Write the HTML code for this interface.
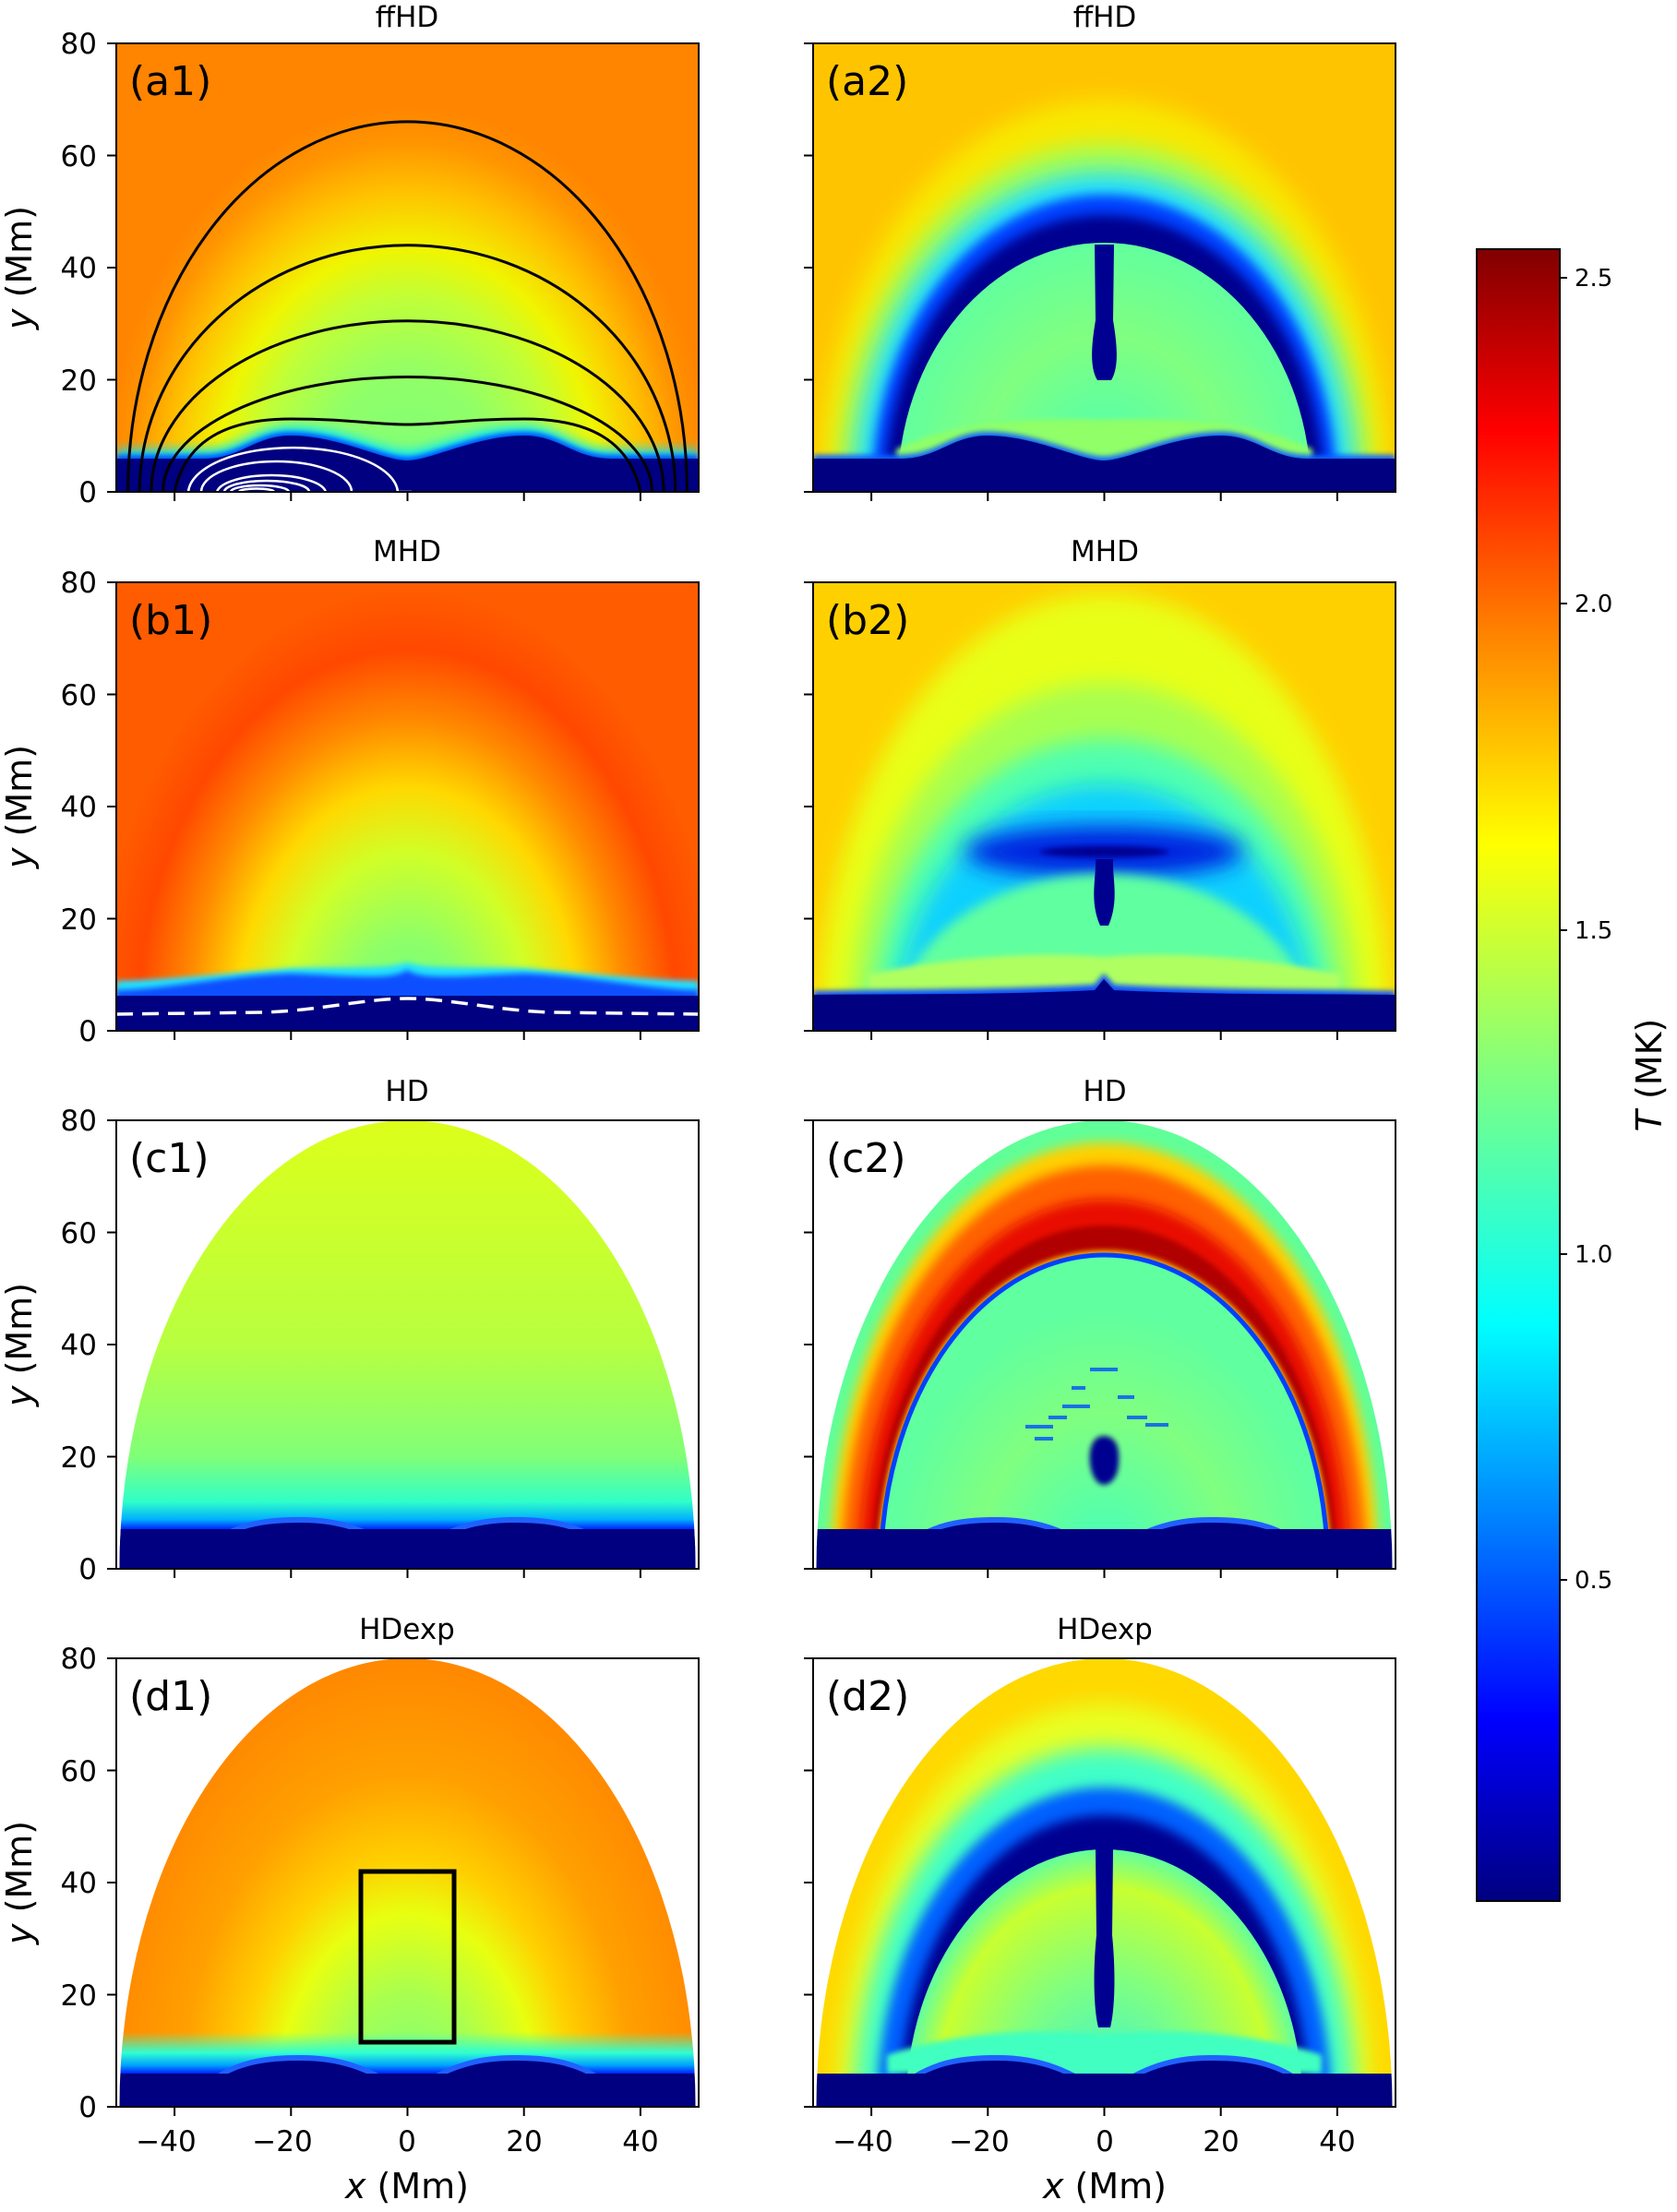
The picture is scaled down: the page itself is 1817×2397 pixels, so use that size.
<!DOCTYPE html>
<html><head><meta charset="utf-8"><style>html,body{margin:0;padding:0;background:#fff;overflow:hidden;width:1817px;height:2397px}svg{display:block}</style></head>
<body>
<svg width="1817" height="2397" viewBox="0 0 1817 2397" xmlns="http://www.w3.org/2000/svg" font-family="DejaVu Sans, Liberation Sans, sans-serif">
<defs>
<filter id="f12" x="-30%" y="-30%" width="160%" height="160%"><feGaussianBlur stdDeviation="12"/></filter>
<filter id="f6" x="-30%" y="-30%" width="160%" height="160%"><feGaussianBlur stdDeviation="6"/></filter>
<filter id="f3" x="-30%" y="-30%" width="160%" height="160%"><feGaussianBlur stdDeviation="3"/></filter>
<clipPath id="cp"><rect x="0" y="0" width="631" height="486"/></clipPath>
<clipPath id="arch"><path d="M3.5,486 A312 486 0 0 1 627.5,486 Z"/></clipPath>
<radialGradient id="ga1" gradientUnits="userSpaceOnUse" cx="0" cy="0" r="1" gradientTransform="translate(315.5 486) scale(330 420)">
<stop offset="0" stop-color="#7dff7a"/><stop offset="0.3" stop-color="#90ff68"/><stop offset="0.5" stop-color="#c0ff38"/><stop offset="0.63" stop-color="#f0f500"/><stop offset="0.78" stop-color="#ffc000"/><stop offset="0.9" stop-color="#ff9500"/><stop offset="1" stop-color="#ff8400"/></radialGradient>
<radialGradient id="gb1" gradientUnits="userSpaceOnUse" cx="0" cy="0" r="1" gradientTransform="translate(315.5 486) scale(340 480)">
<stop offset="0" stop-color="#70ff80"/><stop offset="0.2" stop-color="#8cff6a"/><stop offset="0.4" stop-color="#d0ff28"/><stop offset="0.55" stop-color="#ffd800"/><stop offset="0.7" stop-color="#ff8a00"/><stop offset="0.86" stop-color="#ff4800"/><stop offset="1" stop-color="#ff5c00"/></radialGradient>
<radialGradient id="gd1" gradientUnits="userSpaceOnUse" cx="0" cy="0" r="1" gradientTransform="translate(315.5 486) scale(330 486)">
<stop offset="0" stop-color="#70ff8a"/><stop offset="0.25" stop-color="#a8ff50"/><stop offset="0.43" stop-color="#e8ff10"/><stop offset="0.55" stop-color="#ffd000"/><stop offset="0.74" stop-color="#ffa000"/><stop offset="1" stop-color="#ff8800"/></radialGradient>
<linearGradient id="gc1" gradientUnits="userSpaceOnUse" x1="0" y1="0" x2="0" y2="486">
<stop offset="0" stop-color="#dcff1a"/><stop offset="0.5" stop-color="#b8ff40"/><stop offset="0.75" stop-color="#80ff78"/><stop offset="0.85" stop-color="#30ffc8"/><stop offset="0.89" stop-color="#00b0ff"/><stop offset="0.91" stop-color="#0030ff"/><stop offset="0.92" stop-color="#000080"/><stop offset="1" stop-color="#000080"/></linearGradient>
<linearGradient id="gband" x1="0" y1="0" x2="0" y2="1">
<stop offset="0" stop-color="#30ffd0" stop-opacity="0"/><stop offset="0.5" stop-color="#30ffd0"/><stop offset="0.8" stop-color="#00a0ff"/><stop offset="1" stop-color="#0020ff"/></linearGradient>
<radialGradient id="gdome" gradientUnits="userSpaceOnUse" cx="0" cy="0" r="1" gradientTransform="translate(315.5 486) scale(230 280)">
<stop offset="0" stop-color="#40ffc0"/><stop offset="0.6" stop-color="#80ff80"/><stop offset="1" stop-color="#60ffa0"/></radialGradient>
<radialGradient id="gdome2" gradientUnits="userSpaceOnUse" cx="0" cy="0" r="1" gradientTransform="translate(315.5 486) scale(215 280)">
<stop offset="0" stop-color="#30f0e0"/><stop offset="0.5" stop-color="#80ff80"/><stop offset="0.85" stop-color="#c8ff30"/><stop offset="1" stop-color="#60ffa0"/></radialGradient>
<linearGradient id="gcb" x1="0" y1="0" x2="0" y2="1">
<stop offset="0" stop-color="#800000"/><stop offset="0.11" stop-color="#ff0000"/><stop offset="0.23" stop-color="#ff8000"/><stop offset="0.36" stop-color="#ffff00"/><stop offset="0.5" stop-color="#80ff80"/><stop offset="0.65" stop-color="#00ffff"/><stop offset="0.77" stop-color="#0080ff"/><stop offset="0.89" stop-color="#0000ff"/><stop offset="1" stop-color="#000080"/></linearGradient>
<path id="base" d="M0,450 L95,450 C135,450 150,425 189,425 C240,425 290,452 315,452 C340,452 390,425 442,425 C481,425 496,450 536,450 L631,450 L631,486 L0,486Z"/>
<path id="baseC" d="M0,443 L631,443 L631,486 L0,486Z"/>
<path id="hills" d="M110,450 C140,432 170,430 200,430 C240,430 270,440 305,462 L326,462 C360,440 390,430 430,430 C460,430 490,432 520,450Z"/>
<g id="ticksL">
<path d="M0,0 h-10 M0,121.5 h-10 M0,243 h-10 M0,364.5 h-10 M0,486 h-10 M63.1,486 v10 M189.3,486 v10 M315.5,486 v10 M441.7,486 v10 M567.9,486 v10" stroke="#000" stroke-width="2" fill="none"/>
<rect x="0" y="0" width="631" height="486" fill="none" stroke="#000" stroke-width="2"/>
</g>
</defs>

<g transform="translate(126,47)">
<g clip-path="url(#cp)">
<rect width="631" height="486" fill="url(#ga1)"/>
<use href="#base" transform="translate(0,-10)" fill="#00e8ff" filter="url(#f6)"/>
<use href="#base" transform="translate(0,-4)" fill="#0050ff" filter="url(#f3)"/>
<use href="#base" fill="#000080"/>
<g fill="none" stroke="#000" stroke-width="3">
<path d="M12.6,486 A302.8 401 0 0 1 618.4,486"/>
<path d="M25.2,486 A290.3 267.3 0 0 1 605.8,486"/>
<path d="M37.9,486 A277.6 185.3 0 0 1 593.1,486"/>
<path d="M50.5,486 A265 124.5 0 0 1 580.5,486"/>
<path d="M63.1,486 C75,430 120,407 189,407 C250,407 280,413 315.5,413 C351,413 381,407 442,407 C511,407 556,430 567.9,486"/>
</g>
<g fill="none" stroke="#fff" stroke-width="2.5">
<path d="M78,486 A113.6 50 0 0 1 305,486 L320,486"/>
<path d="M92,486 A81.4 33 0 0 1 255,486"/>
<path d="M109,486 A59.3 20 0 0 1 227,486"/>
<path d="M117,486 A46 12 0 0 1 209,486"/>
<path d="M124,486 A31.5 7 0 0 1 187,486"/>
<path d="M133,486 A19 3.5 0 0 1 171,486"/>
</g>
</g>
<use href="#ticksL"/>
</g>

<g transform="translate(881,47)">
<g clip-path="url(#cp)">
<rect width="631" height="486" fill="#ffc400"/>
<ellipse cx="315.5" cy="486" rx="312" ry="425" fill="#f8e800" filter="url(#f12)"/>
<ellipse cx="315.5" cy="486" rx="290" ry="377" fill="#a0ff58" filter="url(#f12)"/>
<ellipse cx="315.5" cy="486" rx="271" ry="346" fill="#20e0ff" filter="url(#f12)"/>
<ellipse cx="315.5" cy="486" rx="252" ry="322" fill="#0040ff" filter="url(#f6)"/>
<ellipse cx="315.5" cy="486" rx="238" ry="300" fill="#000090" filter="url(#f6)"/>
<ellipse cx="315.5" cy="486" rx="224" ry="270" fill="url(#gdome)"/>
<path d="M305,218 L326,218 L325,300 C330,330 331,352 323,365 L308,365 C300,352 301,330 306,300Z" fill="#000090"/>
<path d="M90,440 C150,410 250,405 315,408 C380,405 480,410 541,440 L541,452 L90,452Z" fill="#90ff68" filter="url(#f3)"/>
<use href="#base" transform="translate(0,-4)" fill="#1060ff" filter="url(#f3)"/>
<use href="#base" fill="#000080"/>
</g>
<use href="#ticksL"/>
</g>

<g transform="translate(126,631)">
<g clip-path="url(#cp)">
<rect width="631" height="486" fill="#ff6000"/>
<rect width="631" height="486" fill="url(#gb1)"/>
<path d="M0,432 C60,430 120,424 189,418 C250,416 290,420 315,412 C340,420 380,416 442,418 C510,424 570,430 631,432 L631,486 L0,486Z" fill="#20e0ff" filter="url(#f3)"/>
<path d="M0,442 C60,440 120,426 189,424 C250,426 300,432 315,420 C330,432 380,426 442,424 C510,426 570,440 631,442 L631,486 L0,486Z" fill="#1050ff" filter="url(#f3)"/>
<path d="M0,448 L631,448 L631,486 L0,486Z" fill="#000080"/>
<path d="M0,468 L160,466 C220,464 270,451 315.5,451 C361,451 411,464 471,466 L631,468" fill="none" stroke="#fff" stroke-width="3.5" stroke-dasharray="18 10"/>
</g>
<use href="#ticksL"/>
</g>

<g transform="translate(881,631)">
<g clip-path="url(#cp)">
<rect width="631" height="486" fill="#ffd000"/>
<ellipse cx="315.5" cy="486" rx="309" ry="474" fill="#e8ff18" filter="url(#f12)"/>
<ellipse cx="315.5" cy="486" rx="278" ry="377" fill="#a8ff50" filter="url(#f12)"/>
<ellipse cx="315.5" cy="486" rx="252" ry="316" fill="#50ffb0" filter="url(#f12)"/>
<ellipse cx="315.5" cy="486" rx="227" ry="267" fill="#10d0ff" filter="url(#f12)"/>
<ellipse cx="315.5" cy="292" rx="150" ry="28" fill="#0020e0" filter="url(#f12)"/>
<ellipse cx="315.5" cy="292" rx="70" ry="6" fill="#000090" filter="url(#f3)"/>
<ellipse cx="315.5" cy="486" rx="227" ry="170" fill="#60ffa0" filter="url(#f6)"/>
<path d="M306,300 L325,300 C324,320 332,345 320,372 L311,372 C299,345 307,320 306,300Z" fill="#000090"/>
<path d="M60,425 C150,405 250,400 315,406 C380,400 480,405 571,425 L571,445 L60,445Z" fill="#b0ff60" filter="url(#f3)"/>
<path d="M0,443 C100,441 200,442 305,436 L315,424 L326,436 C430,442 530,441 631,443 L631,486 L0,486Z" fill="#1050ff" filter="url(#f3)"/>
<path d="M0,447 C100,446 200,447 305,442 L315,430 L326,442 C430,447 530,446 631,447 L631,486 L0,486Z" fill="#000080"/>
</g>
<use href="#ticksL"/>
</g>

<g transform="translate(126,1214)">
<g clip-path="url(#arch)">
<rect width="631" height="486" fill="url(#gc1)"/>
<use href="#hills" fill="#2060ff"/>
<use href="#hills" transform="translate(0,6)" fill="#000080"/>
<use href="#baseC" fill="#000080"/>
</g>
<use href="#ticksL"/>
</g>

<g transform="translate(881,1214)">
<g clip-path="url(#arch)">
<rect width="631" height="486" fill="#60ff98"/>
<ellipse cx="315.5" cy="486" rx="297" ry="462" fill="#ffd000" filter="url(#f6)"/>
<ellipse cx="315.5" cy="486" rx="284" ry="437" fill="#ff6000" filter="url(#f6)"/>
<ellipse cx="315.5" cy="486" rx="265" ry="400" fill="#e81000" filter="url(#f6)"/>
<ellipse cx="315.5" cy="486" rx="252" ry="372" fill="#b00000" filter="url(#f3)"/>
<ellipse cx="315.5" cy="486" rx="246" ry="345" fill="#ffc000" filter="url(#f3)"/>
<ellipse cx="315.5" cy="486" rx="242" ry="340" fill="url(#gdome)" stroke="#0040ff" stroke-width="5"/>
<g stroke="#0050ff" stroke-width="4" opacity="0.8">
<path d="M255,322 h20 M340,322 h22 M270,310 h30 M330,300 h18 M230,332 h30 M360,330 h25 M280,290 h15 M300,270 h30 M240,345 h20"/>
</g>
<path d="M300,372 C298,352 305,342 315,342 C326,342 333,352 331,372 C330,390 320,395 315,395 C309,395 302,388 300,372Z" fill="#000090" filter="url(#f3)"/>
<use href="#hills" fill="#2060ff"/>
<use href="#hills" transform="translate(0,6)" fill="#000080"/>
<use href="#baseC" fill="#000080"/>
</g>
<use href="#ticksL"/>
</g>

<g transform="translate(126,1797)">
<g clip-path="url(#arch)">
<rect width="631" height="486" fill="url(#gd1)"/>
<rect x="0" y="405" width="631" height="45" fill="url(#gband)"/>
<use href="#hills" fill="#2060ff"/>
<use href="#hills" transform="translate(0,6)" fill="#000080"/>
<path d="M0,450 L631,450 L631,486 L0,486Z" fill="#000080"/>
</g>
<rect x="265" y="231" width="101" height="185" fill="none" stroke="#000" stroke-width="5"/>
<use href="#ticksL"/>
</g>

<g transform="translate(881,1797)">
<g clip-path="url(#arch)">
<rect width="631" height="486" fill="#ffd800"/>
<ellipse cx="315.5" cy="486" rx="290" ry="437" fill="#e8ff20" filter="url(#f12)"/>
<ellipse cx="315.5" cy="486" rx="271" ry="389" fill="#40ffc8" filter="url(#f12)"/>
<ellipse cx="315.5" cy="486" rx="246" ry="346" fill="#0060ff" filter="url(#f6)"/>
<ellipse cx="315.5" cy="486" rx="222" ry="316" fill="#000090" filter="url(#f6)"/>
<ellipse cx="315.5" cy="486" rx="215" ry="279" fill="url(#gdome2)"/>
<path d="M306,207 L325,207 L324,300 C328,340 327,380 322,400 L309,400 C304,380 303,340 307,300Z" fill="#000090"/>
<path d="M80,430 C150,405 250,400 315,408 C380,400 480,405 551,430 L551,450 L80,450Z" fill="#40ffc0" filter="url(#f3)"/>
<use href="#hills" fill="#2060ff"/>
<use href="#hills" transform="translate(0,6)" fill="#000080"/>
<path d="M0,450 L631,450 L631,486 L0,486Z" fill="#000080"/>
</g>
<use href="#ticksL"/>
</g>

<g font-size="31" text-anchor="middle" fill="#000">
<text x="441" y="29">ffHD</text><text x="1197" y="29">ffHD</text>
<text x="441" y="608">MHD</text><text x="1197" y="608">MHD</text>
<text x="441" y="1193">HD</text><text x="1197" y="1193">HD</text>
<text x="441" y="1776">HDexp</text><text x="1197" y="1776">HDexp</text>
</g>
<g font-size="44" fill="#000">
<text x="140" y="103">(a1)</text><text x="895" y="103">(a2)</text>
<text x="140" y="687">(b1)</text><text x="895" y="687">(b2)</text>
<text x="140" y="1270">(c1)</text><text x="895" y="1270">(c2)</text>
<text x="140" y="1853">(d1)</text><text x="895" y="1853">(d2)</text>
</g>
<g font-size="31" text-anchor="end" fill="#000">
<text x="105" y="58">80</text><text x="105" y="180">60</text><text x="105" y="301">40</text><text x="105" y="423">20</text><text x="105" y="544">0</text>
<text x="105" y="642">80</text><text x="105" y="764">60</text><text x="105" y="885">40</text><text x="105" y="1007">20</text><text x="105" y="1128">0</text>
<text x="105" y="1225">80</text><text x="105" y="1347">60</text><text x="105" y="1468">40</text><text x="105" y="1590">20</text><text x="105" y="1711">0</text>
<text x="105" y="1808">80</text><text x="105" y="1930">60</text><text x="105" y="2051">40</text><text x="105" y="2173">20</text><text x="105" y="2294">0</text>
</g>
<g font-size="31" text-anchor="middle" fill="#000">
<text x="180" y="2331">−40</text><text x="306" y="2331">−20</text><text x="441" y="2331">0</text><text x="568" y="2331">20</text><text x="694" y="2331">40</text>
<text x="935" y="2331">−40</text><text x="1061" y="2331">−20</text><text x="1197" y="2331">0</text><text x="1323" y="2331">20</text><text x="1449" y="2331">40</text>
</g>
<g font-size="38" fill="#000" text-anchor="middle">
<text x="441" y="2382"><tspan font-style="italic">x</tspan> (Mm)</text>
<text x="1197" y="2382"><tspan font-style="italic">x</tspan> (Mm)</text>
<text transform="translate(34,290) rotate(-90)"><tspan font-style="italic">y</tspan> (Mm)</text>
<text transform="translate(34,874) rotate(-90)"><tspan font-style="italic">y</tspan> (Mm)</text>
<text transform="translate(34,1457) rotate(-90)"><tspan font-style="italic">y</tspan> (Mm)</text>
<text transform="translate(34,2040) rotate(-90)"><tspan font-style="italic">y</tspan> (Mm)</text>
</g>
<rect x="1600" y="270" width="90" height="1790" fill="url(#gcb)" stroke="#000" stroke-width="2"/>
<path d="M1690,301 h8 M1690,654 h8 M1690,1008 h8 M1690,1359 h8 M1690,1712 h8" stroke="#000" stroke-width="2"/>
<g font-size="26" fill="#000">
<text x="1706" y="310">2.5</text><text x="1706" y="663">2.0</text><text x="1706" y="1017">1.5</text><text x="1706" y="1368">1.0</text><text x="1706" y="1721">0.5</text>
</g>
<text transform="translate(1800,1165) rotate(-90)" font-size="38" text-anchor="middle" fill="#000"><tspan font-style="italic">T</tspan> (MK)</text>
</svg>
</body></html>
